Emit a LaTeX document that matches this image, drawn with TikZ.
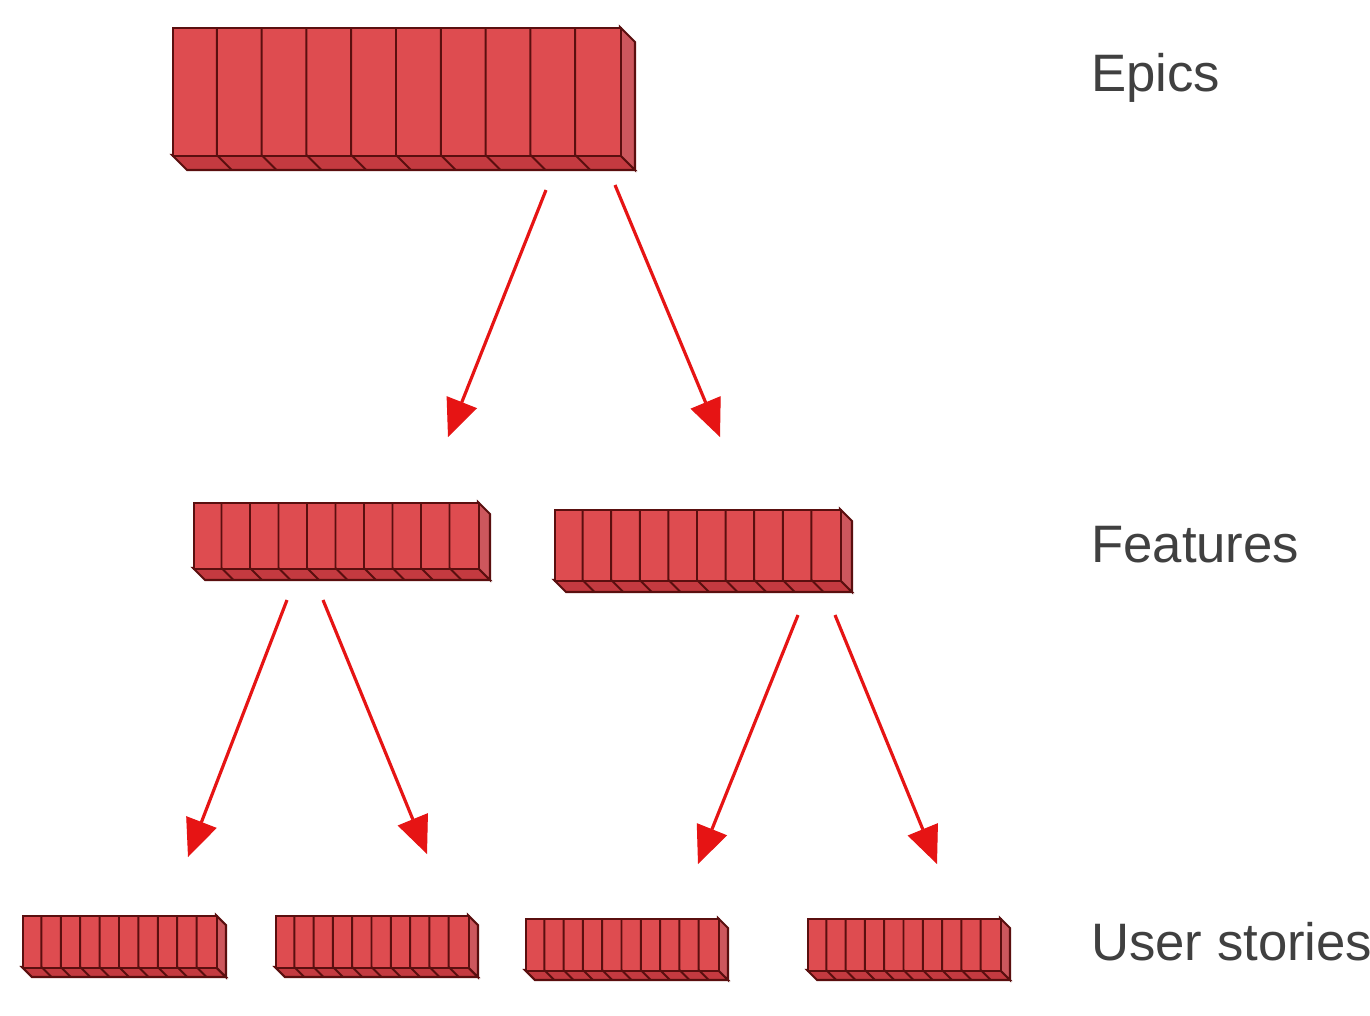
\documentclass[tikz,border=0pt]{standalone}
\usepackage{fontspec}
\setmainfont{Liberation Sans}
\usetikzlibrary{arrows.meta}
\definecolor{brick}{RGB}{222,76,80}
\definecolor{brickdk}{RGB}{196,58,64}
\definecolor{edge}{RGB}{90,15,15}
\definecolor{arr}{RGB}{230,20,20}
\newcommand{\myblk}[6]{%
 \fill[brickdk,draw=edge,line width=1.2pt] (#1,#4)--(#3,#4)--(#3+#5,#4+#5)--(#1+#5,#4+#5)--cycle;
 \fill[brickdk!85!white,draw=edge,line width=1.2pt] (#3,#2)--(#3+#5,#2+#5)--(#3+#5,#4+#5)--(#3,#4)--cycle;
 \node[draw=edge,fill=brick,line width=1.2pt,inner sep=0,minimum width=0pt,anchor=north west,
   fit/.style={},shape=rectangle,minimum width={(#3-#1)*0.02cm},minimum height={(#4-#2)*0.02cm}] (#6) at (#1,#2) {};
 \foreach \i in {1,...,9}{
   \draw[edge,line width=1.1pt] ({#1+\i*(#3-#1)/10},#2)--({#1+\i*(#3-#1)/10},#4)--({#1+\i*(#3-#1)/10+#5},#4+#5);}
}
\tikzset{flow/.style={arr,line width=1.8pt,-{Triangle[length=0.75cm,width=0.65cm,fill=arr,line width=0.6pt]}},
  lab/.style={anchor=west,text=black!75,font=\fontsize{30}{36}\selectfont}}
\begin{document}
\begin{tikzpicture}[x=0.02cm,y=-0.02cm]
\useasboundingbox[fill=white] (0,0) rectangle (1370,1015);
\myblk{172}{27}{620}{155}{15}{ep}
\myblk{193}{502}{478}{568}{12}{fl}
\myblk{554}{509}{840}{580}{12}{fr}
\myblk{22}{915}{216}{967}{10}{u1}
\myblk{275}{915}{468}{967}{10}{u2}
\myblk{525}{918}{718}{970}{10}{u3}
\myblk{807}{918}{1000}{970}{10}{u4}
\coordinate (a1) at (546,190); \coordinate (b1) at (448,437);
\coordinate (a2) at (615,185); \coordinate (b2) at (720,437);
\coordinate (a3) at (287,600); \coordinate (b3) at (188,857);
\coordinate (a4) at (323,600); \coordinate (b4) at (427,854);
\coordinate (a5) at (798,615); \coordinate (b5) at (698,864);
\coordinate (a6) at (835,615); \coordinate (b6) at (937,864);
\foreach \i in {1,...,6}{\draw[flow] (a\i)--(b\i);}
\node[lab] (te) at (1085,78) {Epics};
\node[lab] (tf) at (1085,545) {Features};
\node[lab] (tu) at (1085,942) {User stories};
\end{tikzpicture}
\end{document}
